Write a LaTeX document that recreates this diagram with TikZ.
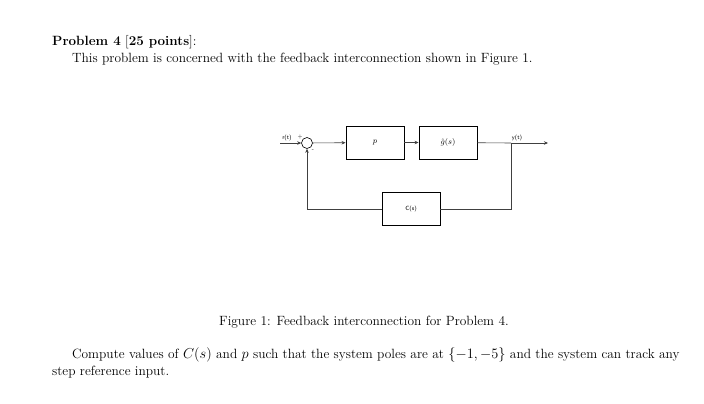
\documentclass[tikz,border=0pt]{standalone}
\usetikzlibrary{arrows.meta}
\begin{document}
\begin{tikzpicture}[x=1pt,y=-1pt,
  txt/.style={anchor=base west,inner sep=0,font=\fontsize{13.4}{15}\selectfont},
  blk/.style={draw,line width=0.9pt,minimum width=58pt,minimum height=33pt,inner sep=0},
  lab/.style={font=\sffamily\fontsize{6}{7}\selectfont,inner sep=0},
  ln/.style={line width=0.6pt,draw=black!75},
  arr/.style={ln,-{Stealth[length=4pt,width=3.5pt]}}]
\useasboundingbox (0,0) rectangle (704,404);
\node[txt] (h) at (52,46) {\textbf{Problem 4} [\textbf{25 points}]:};
\node[txt] (l1) at (72,63) {This problem is concerned with the feedback interconnection shown in Figure 1.};
\node[txt] (cap) at (219,325) {Figure 1: Feedback interconnection for Problem 4.};
\node[txt] (l2) at (72,358) {Compute values of $C(s)$ and $p$ such that the system poles are at $\{-1,-5\}$ and the system can track any};
\node[txt] (l3) at (52,375) {step reference input.};
\node[draw,circle,minimum size=11pt,inner sep=0,line width=0.6pt] (s) at (307,143) {};
\node[blk] (p) at (375,142.5) {\fontsize{8}{9}\selectfont$p$};
\node[blk] (g) at (448,142.5) {\fontsize{8}{9}\selectfont$\hat g(s)$};
\node[blk] (c) at (411,209) {\sffamily\fontsize{6}{7}\selectfont C(s)};
\coordinate (r) at (280,143);
\coordinate (b) at (511,143);
\coordinate (y) at (548,143);
\node[lab] (rl) at (287,138) {r(t)};
\node[lab] (yl) at (517,138) {y(t)};
\node[lab] (pl) at (300,137) {+};
\node[lab] (ml) at (313,151) {-};
\draw[arr] (r) -- (s);
\draw[arr] (s) -- (p);
\draw[arr] (p) -- (g);
\draw[ln] (g) -- (b);
\draw[arr] (b) -- (y);
\draw[ln] (b) |- (c);
\draw[arr] (c) -| (s);
\end{tikzpicture}
\end{document}
